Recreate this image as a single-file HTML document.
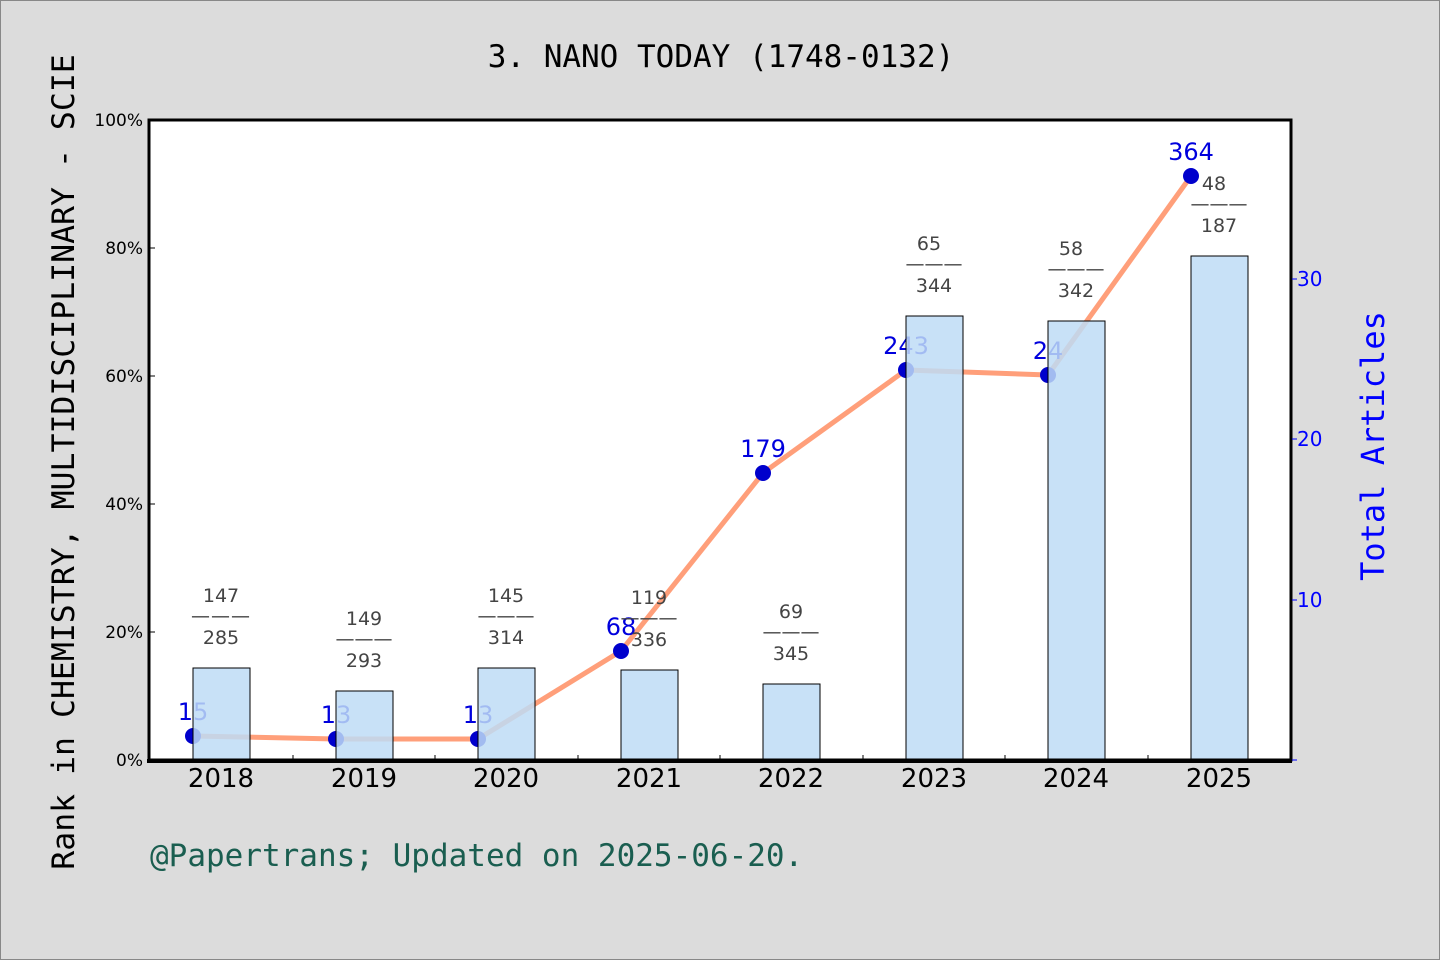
<!DOCTYPE html>
<html><head><meta charset="utf-8"><style>
body{margin:0;background:#dcdcdc;}
svg{display:block}
text{font-family:"DejaVu Sans","Liberation Sans",sans-serif;}
.m{font-family:"DejaVu Sans Mono","Liberation Mono",monospace;}
</style></head><body>
<svg width="1440" height="960" viewBox="0 0 1440 960" xmlns="http://www.w3.org/2000/svg">
<rect x="0.5" y="0.5" width="1439" height="959" fill="#dcdcdc" stroke="#888" stroke-width="1"/>
<text x="721" y="67" text-anchor="middle" font-size="31" class="m" fill="#000">3. NANO TODAY (1748-0132)</text>
<rect x="149" y="120" width="1142" height="640" fill="#fff"/>
<polyline points="193,736 336,739 478,739 621,651 763,473 906,370 1048,375 1191,176" fill="none" stroke="#ff9f7a" stroke-width="5" stroke-linejoin="round"/>
<g fill="#0000cc"><circle cx="193" cy="736" r="8"/><circle cx="336" cy="739" r="8"/><circle cx="478" cy="739" r="8"/><circle cx="621" cy="651" r="8"/><circle cx="763" cy="473" r="8"/><circle cx="906" cy="370" r="8"/><circle cx="1048" cy="375" r="8"/><circle cx="1191" cy="176" r="8"/></g>
<g font-size="24" fill="#0000dd" text-anchor="middle">
<text x="193" y="720">15</text><text x="336" y="723">13</text><text x="478" y="723">13</text><text x="621" y="635">68</text><text x="763" y="457">179</text><text x="906" y="354">243</text><text x="1048" y="359">24</text><text x="1191" y="160">364</text></g>
<g fill="rgb(190,220,246)" fill-opacity="0.85" stroke="#000" stroke-width="1">
<rect x="193" y="668" width="57" height="92"/><rect x="336" y="691" width="57" height="69"/><rect x="478" y="668" width="57" height="92"/><rect x="621" y="670" width="57" height="90"/><rect x="763" y="684" width="57" height="76"/><rect x="906" y="316" width="57" height="444"/><rect x="1048" y="321" width="57" height="439"/><rect x="1191" y="256" width="57" height="504"/></g>
<g font-size="19" fill="#444" text-anchor="middle">
<text x="221" y="602">147</text><text x="221" y="622" letter-spacing="1">———</text><text x="221" y="644">285</text>
<text x="364" y="625">149</text><text x="364" y="645">———</text><text x="364" y="667">293</text>
<text x="506" y="602">145</text><text x="506" y="622">———</text><text x="506" y="644">314</text>
<text x="649" y="604">119</text><text x="649" y="624">———</text><text x="649" y="646">336</text>
<text x="791" y="618">69</text><text x="791" y="638">———</text><text x="791" y="660">345</text>
<text x="929" y="250">65</text><text x="934" y="270">———</text><text x="934" y="292">344</text>
<text x="1071" y="255">58</text><text x="1076" y="275">———</text><text x="1076" y="297">342</text>
<text x="1214" y="190">48</text><text x="1219" y="210">———</text><text x="1219" y="232">187</text>
</g>
<rect x="149" y="120" width="1142" height="640" fill="none" stroke="#000" stroke-width="3"/>
<line x1="147" y1="761" x2="1292" y2="761" stroke="#000" stroke-width="4"/>
<g stroke="#000" stroke-width="1"><line x1="293" y1="755" x2="293" y2="760"/><line x1="435" y1="755" x2="435" y2="760"/><line x1="578" y1="755" x2="578" y2="760"/><line x1="720" y1="755" x2="720" y2="760"/><line x1="863" y1="755" x2="863" y2="760"/><line x1="1005" y1="755" x2="1005" y2="760"/><line x1="1148" y1="755" x2="1148" y2="760"/></g>
<g font-size="26" fill="#000" text-anchor="middle">
<text x="221" y="787">2018</text><text x="364" y="787">2019</text><text x="506" y="787">2020</text><text x="649" y="787">2021</text><text x="791" y="787">2022</text><text x="934" y="787">2023</text><text x="1076" y="787">2024</text><text x="1219" y="787">2025</text></g>
<g stroke="#000" stroke-width="1"><line x1="149" y1="248" x2="155" y2="248"/><line x1="149" y1="376" x2="155" y2="376"/><line x1="149" y1="504" x2="155" y2="504"/><line x1="149" y1="632" x2="155" y2="632"/></g>
<g font-size="17" fill="#000" text-anchor="end">
<text x="143" y="126">100%</text><text x="143" y="254">80%</text><text x="143" y="382">60%</text><text x="143" y="510">40%</text><text x="143" y="638">20%</text><text x="143" y="766">0%</text></g>
<g stroke="#0000ff" stroke-width="1"><line x1="1292" y1="279" x2="1297" y2="279"/><line x1="1292" y1="439" x2="1297" y2="439"/><line x1="1292" y1="600" x2="1297" y2="600"/><line x1="1292" y1="760" x2="1297" y2="760"/></g>
<g font-size="20" fill="#0000ff"><text x="1297" y="286">30</text><text x="1297" y="446">20</text><text x="1297" y="607">10</text></g>
<text transform="translate(1384,446) rotate(-90)" text-anchor="middle" font-size="32" fill="#0000ff" class="m">Total Articles</text>
<text transform="translate(74,462) rotate(-90)" text-anchor="middle" font-size="31.5" fill="#000" class="m">Rank in CHEMISTRY, MULTIDISCIPLINARY - SCIE</text>
<text x="150" y="866" font-size="31" fill="#1a5e50" class="m">@Papertrans; Updated on 2025-06-20.</text>
</svg>
</body></html>
